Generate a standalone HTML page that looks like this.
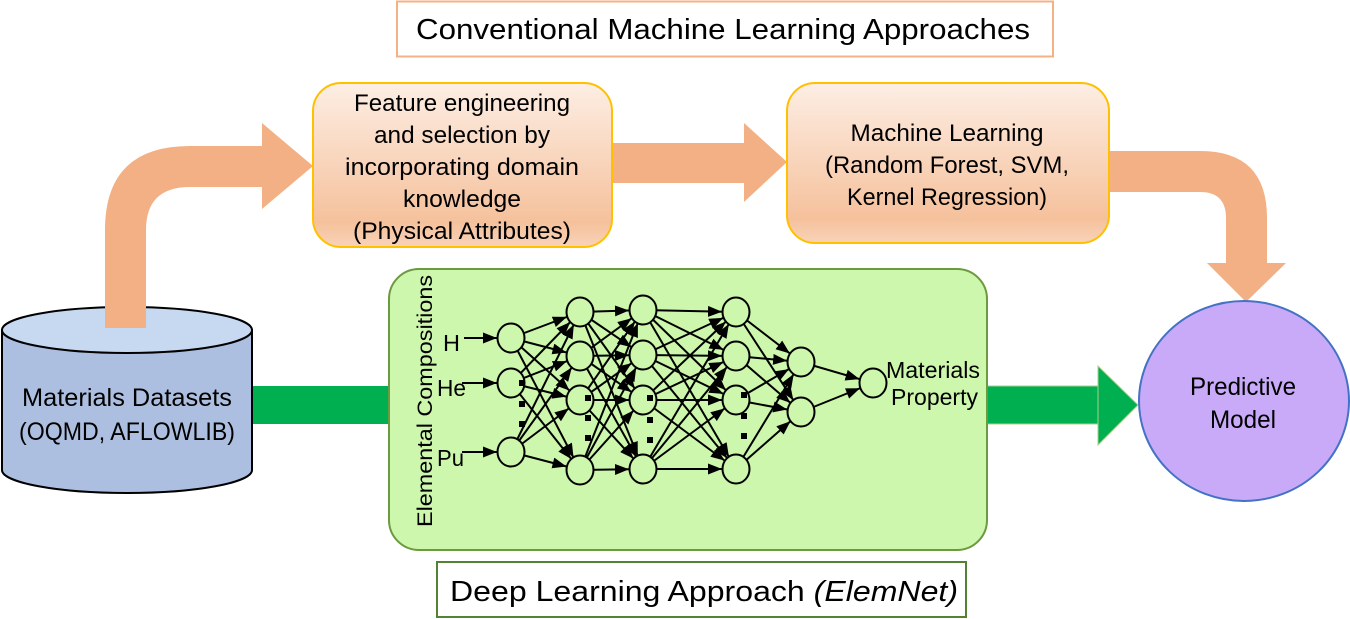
<!DOCTYPE html>
<html><head><meta charset="utf-8"><style>
html,body{margin:0;padding:0;background:#fff;width:1350px;height:619px;overflow:hidden}
svg{display:block}
.c{font-family:"Liberation Sans",sans-serif;fill:#000}
</style></head><body>
<svg width="1350" height="619" viewBox="0 0 1350 619" xmlns="http://www.w3.org/2000/svg">
<defs>
<linearGradient id="og" x1="0" y1="0" x2="0" y2="1">
<stop offset="0" stop-color="#fdeee4"/><stop offset="0.85" stop-color="#f5c19c"/><stop offset="1" stop-color="#f8d3b8"/>
</linearGradient>
<marker id="ah" markerUnits="userSpaceOnUse" markerWidth="14" markerHeight="11" refX="28" refY="5.5" orient="auto">
<path d="M0,0 L14,5.5 L0,11 z" fill="#000"/>
</marker>
</defs>

<rect x="397" y="1.5" width="656" height="55" fill="#fff" stroke="#f4b183" stroke-width="2"/>
<text class="c" x="416" y="39" font-size="29" textLength="614" lengthAdjust="spacingAndGlyphs">Conventional Machine Learning Approaches</text>

<path d="M105,327 L105,230 Q105,146 190,146 L262,146 L262,123 L313,166 L262,209 L262,187 L190,187 Q146,187 146,230 L146,327 Z" fill="#f2b084"/>
<rect x="612" y="143" width="133" height="40" fill="#f2b084"/>
<path d="M744,123 L787,162 L744,202 Z" fill="#f2b084"/>
<path d="M1100,151 L1200,151 Q1267,151 1267,218 L1267,263 L1286,263 L1246,302 L1207,263 L1226,263 L1226,218 Q1226,192 1200,192 L1100,192 Z" fill="#f2b084"/>

<rect x="313" y="83" width="299" height="164" rx="28" fill="url(#og)" stroke="#ffc000" stroke-width="2"/>
<rect x="787" y="83" width="322" height="160" rx="28" fill="url(#og)" stroke="#ffc000" stroke-width="2"/>
<g class="c" font-size="24" text-anchor="middle">
<text x="462" y="111" textLength="216" lengthAdjust="spacingAndGlyphs">Feature engineering</text>
<text x="462" y="143" textLength="176" lengthAdjust="spacingAndGlyphs">and selection by</text>
<text x="462" y="175" textLength="234" lengthAdjust="spacingAndGlyphs">incorporating domain</text>
<text x="462" y="207" textLength="118" lengthAdjust="spacingAndGlyphs">knowledge</text>
<text x="462" y="239" textLength="218" lengthAdjust="spacingAndGlyphs">(Physical Attributes)</text>
<text x="947" y="141" textLength="193" lengthAdjust="spacingAndGlyphs">Machine Learning</text>
<text x="947" y="173" textLength="244" lengthAdjust="spacingAndGlyphs">(Random Forest, SVM,</text>
<text x="947" y="205" textLength="200" lengthAdjust="spacingAndGlyphs">Kernel Regression)</text>
</g>

<rect x="250" y="386" width="142" height="38" fill="#00b050"/>
<rect x="986" y="386" width="114" height="38" fill="#00b050" stroke="#a9d18e" stroke-width="1"/>
<path d="M1098,366 L1138,405 L1098,445 Z" fill="#00b050" stroke="#a9d18e" stroke-width="1"/>

<path d="M2,330 L2,470 A125,23 0 0 0 252,470 L252,330 Z" fill="#adbfe0" stroke="#000" stroke-width="2"/>
<ellipse cx="127" cy="330" rx="125" ry="23" fill="#c6d9f0" stroke="#000" stroke-width="2"/>
<rect x="105" y="300" width="41" height="28" fill="#f2b084"/>
<g class="c" font-size="25" text-anchor="middle">
<text x="127" y="406" textLength="210" lengthAdjust="spacingAndGlyphs">Materials Datasets</text>
<text x="127" y="440" textLength="216" lengthAdjust="spacingAndGlyphs">(OQMD, AFLOWLIB)</text>
</g>

<ellipse cx="1244" cy="401" rx="105" ry="100" fill="#c8aaf8" stroke="#4472c4" stroke-width="2"/>
<g class="c" font-size="25" text-anchor="middle">
<text x="1243" y="395" textLength="106" lengthAdjust="spacingAndGlyphs">Predictive</text>
<text x="1243" y="428" textLength="66" lengthAdjust="spacingAndGlyphs">Model</text>
</g>

<rect x="389" y="269" width="598" height="281" rx="30" fill="#ccf7ac" stroke="#6c9a3e" stroke-width="2"/>
<text class="c" font-size="21" transform="translate(432,527) rotate(-90)" textLength="252" lengthAdjust="spacingAndGlyphs">Elemental Compositions</text>

<g stroke="#000" stroke-width="2" marker-end="url(#ah)">
<line x1="464" y1="338" x2="511" y2="338"/>
<line x1="462" y1="383" x2="511" y2="383"/>
<line x1="462" y1="452" x2="511" y2="452"/>
<line x1="511" y1="338" x2="580" y2="312"/><line x1="511" y1="338" x2="580" y2="356"/><line x1="511" y1="338" x2="580" y2="400"/><line x1="511" y1="338" x2="580" y2="470"/>
<line x1="511" y1="383" x2="580" y2="312"/><line x1="511" y1="383" x2="580" y2="356"/><line x1="511" y1="383" x2="580" y2="400"/><line x1="511" y1="383" x2="580" y2="470"/>
<line x1="511" y1="452" x2="580" y2="312"/><line x1="511" y1="452" x2="580" y2="356"/><line x1="511" y1="452" x2="580" y2="400"/><line x1="511" y1="452" x2="580" y2="470"/>
<line x1="580" y1="312" x2="643" y2="310"/><line x1="580" y1="312" x2="643" y2="355"/><line x1="580" y1="312" x2="643" y2="400"/><line x1="580" y1="312" x2="643" y2="469"/>
<line x1="580" y1="356" x2="643" y2="310"/><line x1="580" y1="356" x2="643" y2="355"/><line x1="580" y1="356" x2="643" y2="400"/><line x1="580" y1="356" x2="643" y2="469"/>
<line x1="580" y1="400" x2="643" y2="310"/><line x1="580" y1="400" x2="643" y2="355"/><line x1="580" y1="400" x2="643" y2="400"/><line x1="580" y1="400" x2="643" y2="469"/>
<line x1="580" y1="470" x2="643" y2="310"/><line x1="580" y1="470" x2="643" y2="355"/><line x1="580" y1="470" x2="643" y2="400"/><line x1="580" y1="470" x2="643" y2="469"/>
<line x1="643" y1="310" x2="736" y2="312"/><line x1="643" y1="310" x2="736" y2="356"/><line x1="643" y1="310" x2="736" y2="400"/><line x1="643" y1="310" x2="736" y2="469"/>
<line x1="643" y1="355" x2="736" y2="312"/><line x1="643" y1="355" x2="736" y2="356"/><line x1="643" y1="355" x2="736" y2="400"/><line x1="643" y1="355" x2="736" y2="469"/>
<line x1="643" y1="400" x2="736" y2="312"/><line x1="643" y1="400" x2="736" y2="356"/><line x1="643" y1="400" x2="736" y2="400"/><line x1="643" y1="400" x2="736" y2="469"/>
<line x1="643" y1="469" x2="736" y2="312"/><line x1="643" y1="469" x2="736" y2="356"/><line x1="643" y1="469" x2="736" y2="400"/><line x1="643" y1="469" x2="736" y2="469"/>
<line x1="736" y1="312" x2="801" y2="362"/><line x1="736" y1="312" x2="801" y2="412"/>
<line x1="736" y1="356" x2="801" y2="362"/><line x1="736" y1="356" x2="801" y2="412"/>
<line x1="736" y1="400" x2="801" y2="362"/><line x1="736" y1="400" x2="801" y2="412"/>
<line x1="736" y1="469" x2="801" y2="362"/><line x1="736" y1="469" x2="801" y2="412"/>
<line x1="801" y1="362" x2="873" y2="383"/><line x1="801" y1="412" x2="873" y2="383"/>
</g>

<g fill="#ccf7ac" stroke="#000" stroke-width="2">
<ellipse cx="511" cy="338" rx="13.5" ry="14.5"/><ellipse cx="511" cy="383" rx="13.5" ry="14.5"/><ellipse cx="511" cy="452" rx="13.5" ry="14.5"/>
<ellipse cx="580" cy="312" rx="13.5" ry="14.5"/><ellipse cx="580" cy="356" rx="13.5" ry="14.5"/><ellipse cx="580" cy="400" rx="13.5" ry="14.5"/><ellipse cx="580" cy="470" rx="13.5" ry="14.5"/>
<ellipse cx="643" cy="310" rx="13.5" ry="14.5"/><ellipse cx="643" cy="355" rx="13.5" ry="14.5"/><ellipse cx="643" cy="400" rx="13.5" ry="14.5"/><ellipse cx="643" cy="469" rx="13.5" ry="14.5"/>
<ellipse cx="736" cy="312" rx="13.5" ry="14.5"/><ellipse cx="736" cy="356" rx="13.5" ry="14.5"/><ellipse cx="736" cy="400" rx="13.5" ry="14.5"/><ellipse cx="736" cy="469" rx="13.5" ry="14.5"/>
<ellipse cx="801" cy="362" rx="13.5" ry="14.5"/><ellipse cx="801" cy="412" rx="13.5" ry="14.5"/>
<ellipse cx="873" cy="383" rx="13.5" ry="14.5"/>
</g>
<g fill="#000">
<rect x="519" y="380" width="6" height="6"/><rect x="519" y="401" width="6" height="6"/><rect x="519" y="421" width="6" height="6"/>
<rect x="585" y="395" width="6" height="6"/><rect x="585" y="415" width="6" height="6"/><rect x="585" y="435" width="6" height="6"/>
<rect x="647" y="395" width="6" height="6"/><rect x="647" y="417" width="6" height="6"/><rect x="647" y="437" width="6" height="6"/>
<rect x="741" y="392" width="6" height="6"/><rect x="741" y="413" width="6" height="6"/><rect x="741" y="433" width="6" height="6"/>
</g>
<g class="c" font-size="23">
<text x="443" y="351" textLength="17" lengthAdjust="spacingAndGlyphs">H</text>
<text x="437" y="396" textLength="29" lengthAdjust="spacingAndGlyphs">He</text>
<text x="437" y="466" textLength="27" lengthAdjust="spacingAndGlyphs">Pu</text>
<text x="886" y="378" textLength="94" lengthAdjust="spacingAndGlyphs">Materials</text>
<text x="891" y="405" textLength="87" lengthAdjust="spacingAndGlyphs">Property</text>
</g>

<rect x="437" y="562" width="529" height="55" fill="#fff" stroke="#548235" stroke-width="2"/>
<text class="c" x="450" y="601" font-size="29" textLength="508" lengthAdjust="spacingAndGlyphs">Deep Learning Approach <tspan font-style="italic">(ElemNet)</tspan></text>
</svg>
</body></html>
